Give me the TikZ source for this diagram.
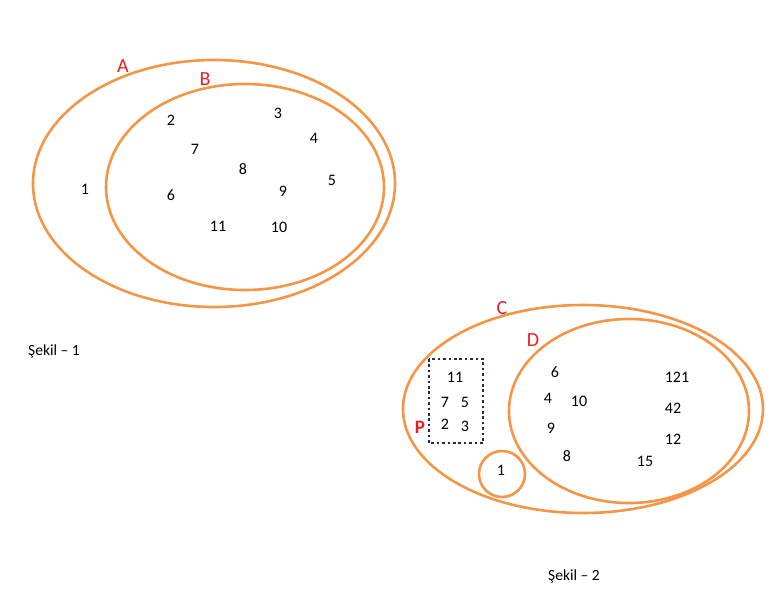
\documentclass[tikz,border=0pt]{standalone}
\usepackage{fontspec}
\setmainfont{Carlito}
\usepackage{tikz}
\usetikzlibrary{positioning,shapes}

\definecolor{setorange}{RGB}{244,150,72}
\definecolor{setred}{RGB}{236,28,36}
\definecolor{boxnavy}{RGB}{31,45,74}

\tikzset{
  setline/.style={draw=setorange,line width=2.6pt},
  elem/.style={font=\fontsize{16}{19}\selectfont,inner sep=0pt},
  setname/.style={font=\fontsize{20}{24}\selectfont,text=setred,inner sep=0pt},
  caption/.style={font=\fontsize{15.5}{18}\selectfont,inner sep=0pt,anchor=west}
}

\begin{document}
\begin{tikzpicture} [x=1pt,y=-1pt]
  \useasboundingbox (0,0) rectangle (774,606);

  % Sekil 1
  \draw[setline] (214,183.5) ellipse [x radius=181,y radius=123.5];
  \draw[setline] (245,187) ellipse [x radius=139,y radius=103];
  \node[setname] (A) at (123,66) {A};
  \node[setname] (B) at (205,79) {B};

  \node[elem] (a1) at (85,189) {1};
  \node[elem] (a2) at (171,120) {2};
  \node[elem] (a3) at (278,113) {3};
  \node[elem] (a4) at (314,138) {4};
  \node[elem] (a5) at (332,180) {5};
  \node[elem] (a6) at (171,195) {6};
  \node[elem] (a7) at (195,149) {7};
  \node[elem] (a8) at (243,169) {8};
  \node[elem] (a9) at (283,191) {9};
  \node[elem] (a10) at (279,227) {10};
  \node[elem] (a11) at (218,226) {11};

  \node[caption] (s1) at (28,351) {Şekil -- 1};

  % Sekil 2
  \draw[setline] (583,409) ellipse [x radius=180,y radius=104];
  \draw[setline] (629,411) ellipse [x radius=120,y radius=92];
  \draw[setline] (502,474) circle [radius=23];
  \draw[draw=boxnavy,line width=2.6pt,dash pattern=on 2.6pt off 2.8pt]
    (429,359) rectangle (483,443);
  \node[setname] (C) at (502,308) {C};
  \node[setname] (D) at (533,340) {D};
  \node[setname,font=\fontsize{19}{23}\selectfont\bfseries] (P) at (420,427) {P};

  \node[elem] (p11) at (455,377) {11};
  \node[elem] (p7) at (445,402) {7};
  \node[elem] (p5) at (465,402) {5};
  \node[elem] (p2) at (445,424) {2};
  \node[elem] (p3) at (465,426) {3};
  \node[elem] (c1) at (501,470) {1};

  \node[elem] (d6) at (555,372) {6};
  \node[elem] (d4) at (548,398) {4};
  \node[elem] (d10) at (579,401) {10};
  \node[elem] (d9) at (551,428) {9};
  \node[elem] (d8) at (567,456) {8};
  \node[elem] (d121) at (677,377) {121};
  \node[elem] (d42) at (673,408) {42};
  \node[elem] (d12) at (673,439) {12};
  \node[elem] (d15) at (645,461) {15};

  \node[caption] (s2) at (548,576) {Şekil -- 2};

\end{tikzpicture}
\end{document}
